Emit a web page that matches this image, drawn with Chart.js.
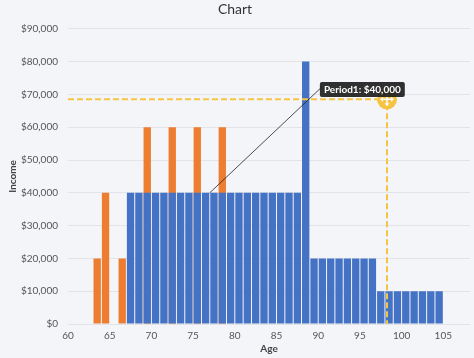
<!DOCTYPE html>
<html lang="en">
<head>
  <meta charset="UTF-8" />
  <title>Chart</title>
  <script src="https://cdn.jsdelivr.net/npm/chart.js"></script>
  <style>
    html, body { margin: 0; padding: 0; background: #f4f5f9; }
    #wrap { width: 474px; height: 358px; }
  </style>
</head>
<body>
  <div id="wrap"><canvas id="myChart" width="474" height="358"></canvas></div>
  <script>
    // Period0 (orange) – age and income
    const ages0 = [63, 64, 66, 69, 72, 75, 78];
    const period0 = [20000, 40000, 20000, 60000, 60000, 60000, 60000];

    // Period1 (blue) – age and income
    const ages1 = [67, 68, 69, 70, 71, 72, 73, 74, 75, 76, 77, 78, 79, 80, 81, 82, 83, 84, 85, 86, 87,
                   88,
                   89, 90, 91, 92, 93, 94, 95, 96,
                   97, 98, 99, 100, 101, 102, 103, 104];
    const period1 = [40000, 40000, 40000, 40000, 40000, 40000, 40000, 40000, 40000, 40000, 40000,
                     40000, 40000, 40000, 40000, 40000, 40000, 40000, 40000, 40000, 40000,
                     80000,
                     20000, 20000, 20000, 20000, 20000, 20000, 20000, 20000,
                     10000, 10000, 10000, 10000, 10000, 10000, 10000, 10000];

    // draggable target marker
    const targetAge = 98.25;
    const targetIncome = 68500;

    // tooltip callout
    const tipAge = 77;
    const tipBoxAge = 90.2;
    const tipBoxIncome = 73800;

    const yTicks = [0, 10000, 20000, 30000, 40000, 50000, 60000, 70000, 80000, 90000];
    const xTicks = [60, 65, 70, 75, 80, 85, 90, 95, 100, 105];

    const fmt = v => '$' + v.toLocaleString('en-US');
    const FONT = 'Lato, "Helvetica Neue", Arial, sans-serif';

    const bg = {
      id: 'bg',
      beforeDraw(chart) {
        const { ctx, width, height } = chart;
        ctx.save();
        ctx.fillStyle = '#f4f5f9';
        ctx.fillRect(0, 0, width, height);
        ctx.restore();
      }
    };

    const callouts = {
      id: 'callouts',
      afterDatasetsDraw(chart) {
        const { ctx, scales: { x, y } } = chart;

        // white move icon inside the target handle
        const cx = x.getPixelForValue(targetAge);
        const cy = y.getPixelForValue(targetIncome);
        ctx.save();
        ctx.strokeStyle = '#fff';
        ctx.fillStyle = '#fff';
        ctx.lineWidth = 1.5;
        ctx.beginPath();
        ctx.moveTo(cx - 5, cy); ctx.lineTo(cx + 5, cy);
        ctx.moveTo(cx, cy - 5); ctx.lineTo(cx, cy + 5);
        ctx.stroke();
        const arrow = (ax, ay, dx, dy) => {
          ctx.beginPath();
          ctx.moveTo(ax + dx * 3, ay + dy * 3);
          ctx.lineTo(ax - dy * 2.5, ay + dx * 2.5);
          ctx.lineTo(ax + dy * 2.5, ay - dx * 2.5);
          ctx.closePath();
          ctx.fill();
        };
        arrow(cx + 4, cy, 1, 0);
        arrow(cx - 4, cy, -1, 0);
        arrow(cx, cy - 4, 0, -1);
        arrow(cx, cy + 4, 0, 1);
        ctx.restore();

        // tooltip with leader line
        const value = period1[ages1.indexOf(tipAge)];
        const text = 'Period1: ' + fmt(value);
        const ax = x.getPixelForValue(tipAge);
        const ay = y.getPixelForValue(value);
        const bx = x.getPixelForValue(tipBoxAge);
        const by = y.getPixelForValue(tipBoxIncome);
        ctx.save();
        ctx.font = 'bold 10px ' + FONT;
        const w = ctx.measureText(text).width + 8;
        const h = 15;
        ctx.strokeStyle = '#222';
        ctx.lineWidth = 0.8;
        ctx.beginPath();
        ctx.moveTo(ax, ay);
        ctx.lineTo(bx + 2, by + 5);
        ctx.stroke();
        ctx.fillStyle = 'rgba(30,30,30,0.92)';
        ctx.beginPath();
        ctx.roundRect(bx, by, w, h, 2);
        ctx.fill();
        ctx.fillStyle = '#fff';
        ctx.textBaseline = 'middle';
        ctx.fillText(text, bx + 4, by + h / 2 + 0.5);
        ctx.restore();
      }
    };

    const ctx = document.getElementById('myChart').getContext('2d');
    new Chart(ctx, {
      type: 'bar',
      data: {
        datasets: [
          {
            type: 'line',
            label: 'Target',
            data: [
              { x: 60, y: targetIncome },
              { x: targetAge, y: targetIncome },
              { x: targetAge, y: 0 }
            ],
            borderColor: '#f6c343',
            borderWidth: 2,
            borderDash: [6, 3],
            pointRadius: [0, 10, 0],
            pointBackgroundColor: '#f6c343',
            pointBorderWidth: 0,
            fill: false,
            order: 0
          },
          {
            label: 'Period1',
            data: ages1.map((a, i) => ({ x: a + 0.5, y: period1[i] })),
            backgroundColor: '#4472c4',
            grouped: false,
            barPercentage: 0.88,
            categoryPercentage: 1,
            order: 1
          },
          {
            label: 'Period0',
            data: ages0.map((a, i) => ({ x: a + 0.5, y: period0[i] })),
            backgroundColor: '#ed7d31',
            grouped: false,
            barPercentage: 0.88,
            categoryPercentage: 1,
            order: 2
          }
        ]
      },
      options: {
        responsive: false,
        animation: false,
        layout: { padding: { left: 0, right: 4, top: 0, bottom: 0 } },
        plugins: {
          legend: { display: false },
          tooltip: { enabled: false },
          title: {
            display: true,
            text: 'Chart',
            color: '#333',
            font: { family: FONT, size: 14, weight: 'normal' },
            padding: { top: 1, bottom: 11 }
          }
        },
        scales: {
          x: {
            type: 'linear',
            min: 60,
            max: 108.2,
            offset: false,
            grid: { display: false, drawTicks: false },
            border: { display: false },
            afterBuildTicks: axis => { axis.ticks = xTicks.map(v => ({ value: v })); },
            afterFit: axis => { axis.height = 34; },
            ticks: { color: '#555', padding: 6, maxRotation: 0, font: { family: FONT, size: 10 } },
            title: {
              display: true, text: 'Age', color: '#444',
              font: { family: FONT, size: 10, weight: 'bold' },
              padding: { top: 1, bottom: 3 }
            }
          },
          y: {
            min: 0,
            max: 90000,
            grid: { color: '#e3e4e8', drawTicks: false },
            border: { display: false },
            afterBuildTicks: axis => { axis.ticks = yTicks.map(v => ({ value: v })); },
            afterFit: axis => { axis.width = 68; },
            ticks: { color: '#555', padding: 10, callback: v => fmt(v), font: { family: FONT, size: 10 } },
            title: {
              display: true, text: 'Income', color: '#444',
              font: { family: FONT, size: 10, weight: 'bold' },
              padding: { top: 7, bottom: 4 }
            }
          }
        }
      },
      plugins: [bg, callouts]
    });
  </script>
</body>
</html>
